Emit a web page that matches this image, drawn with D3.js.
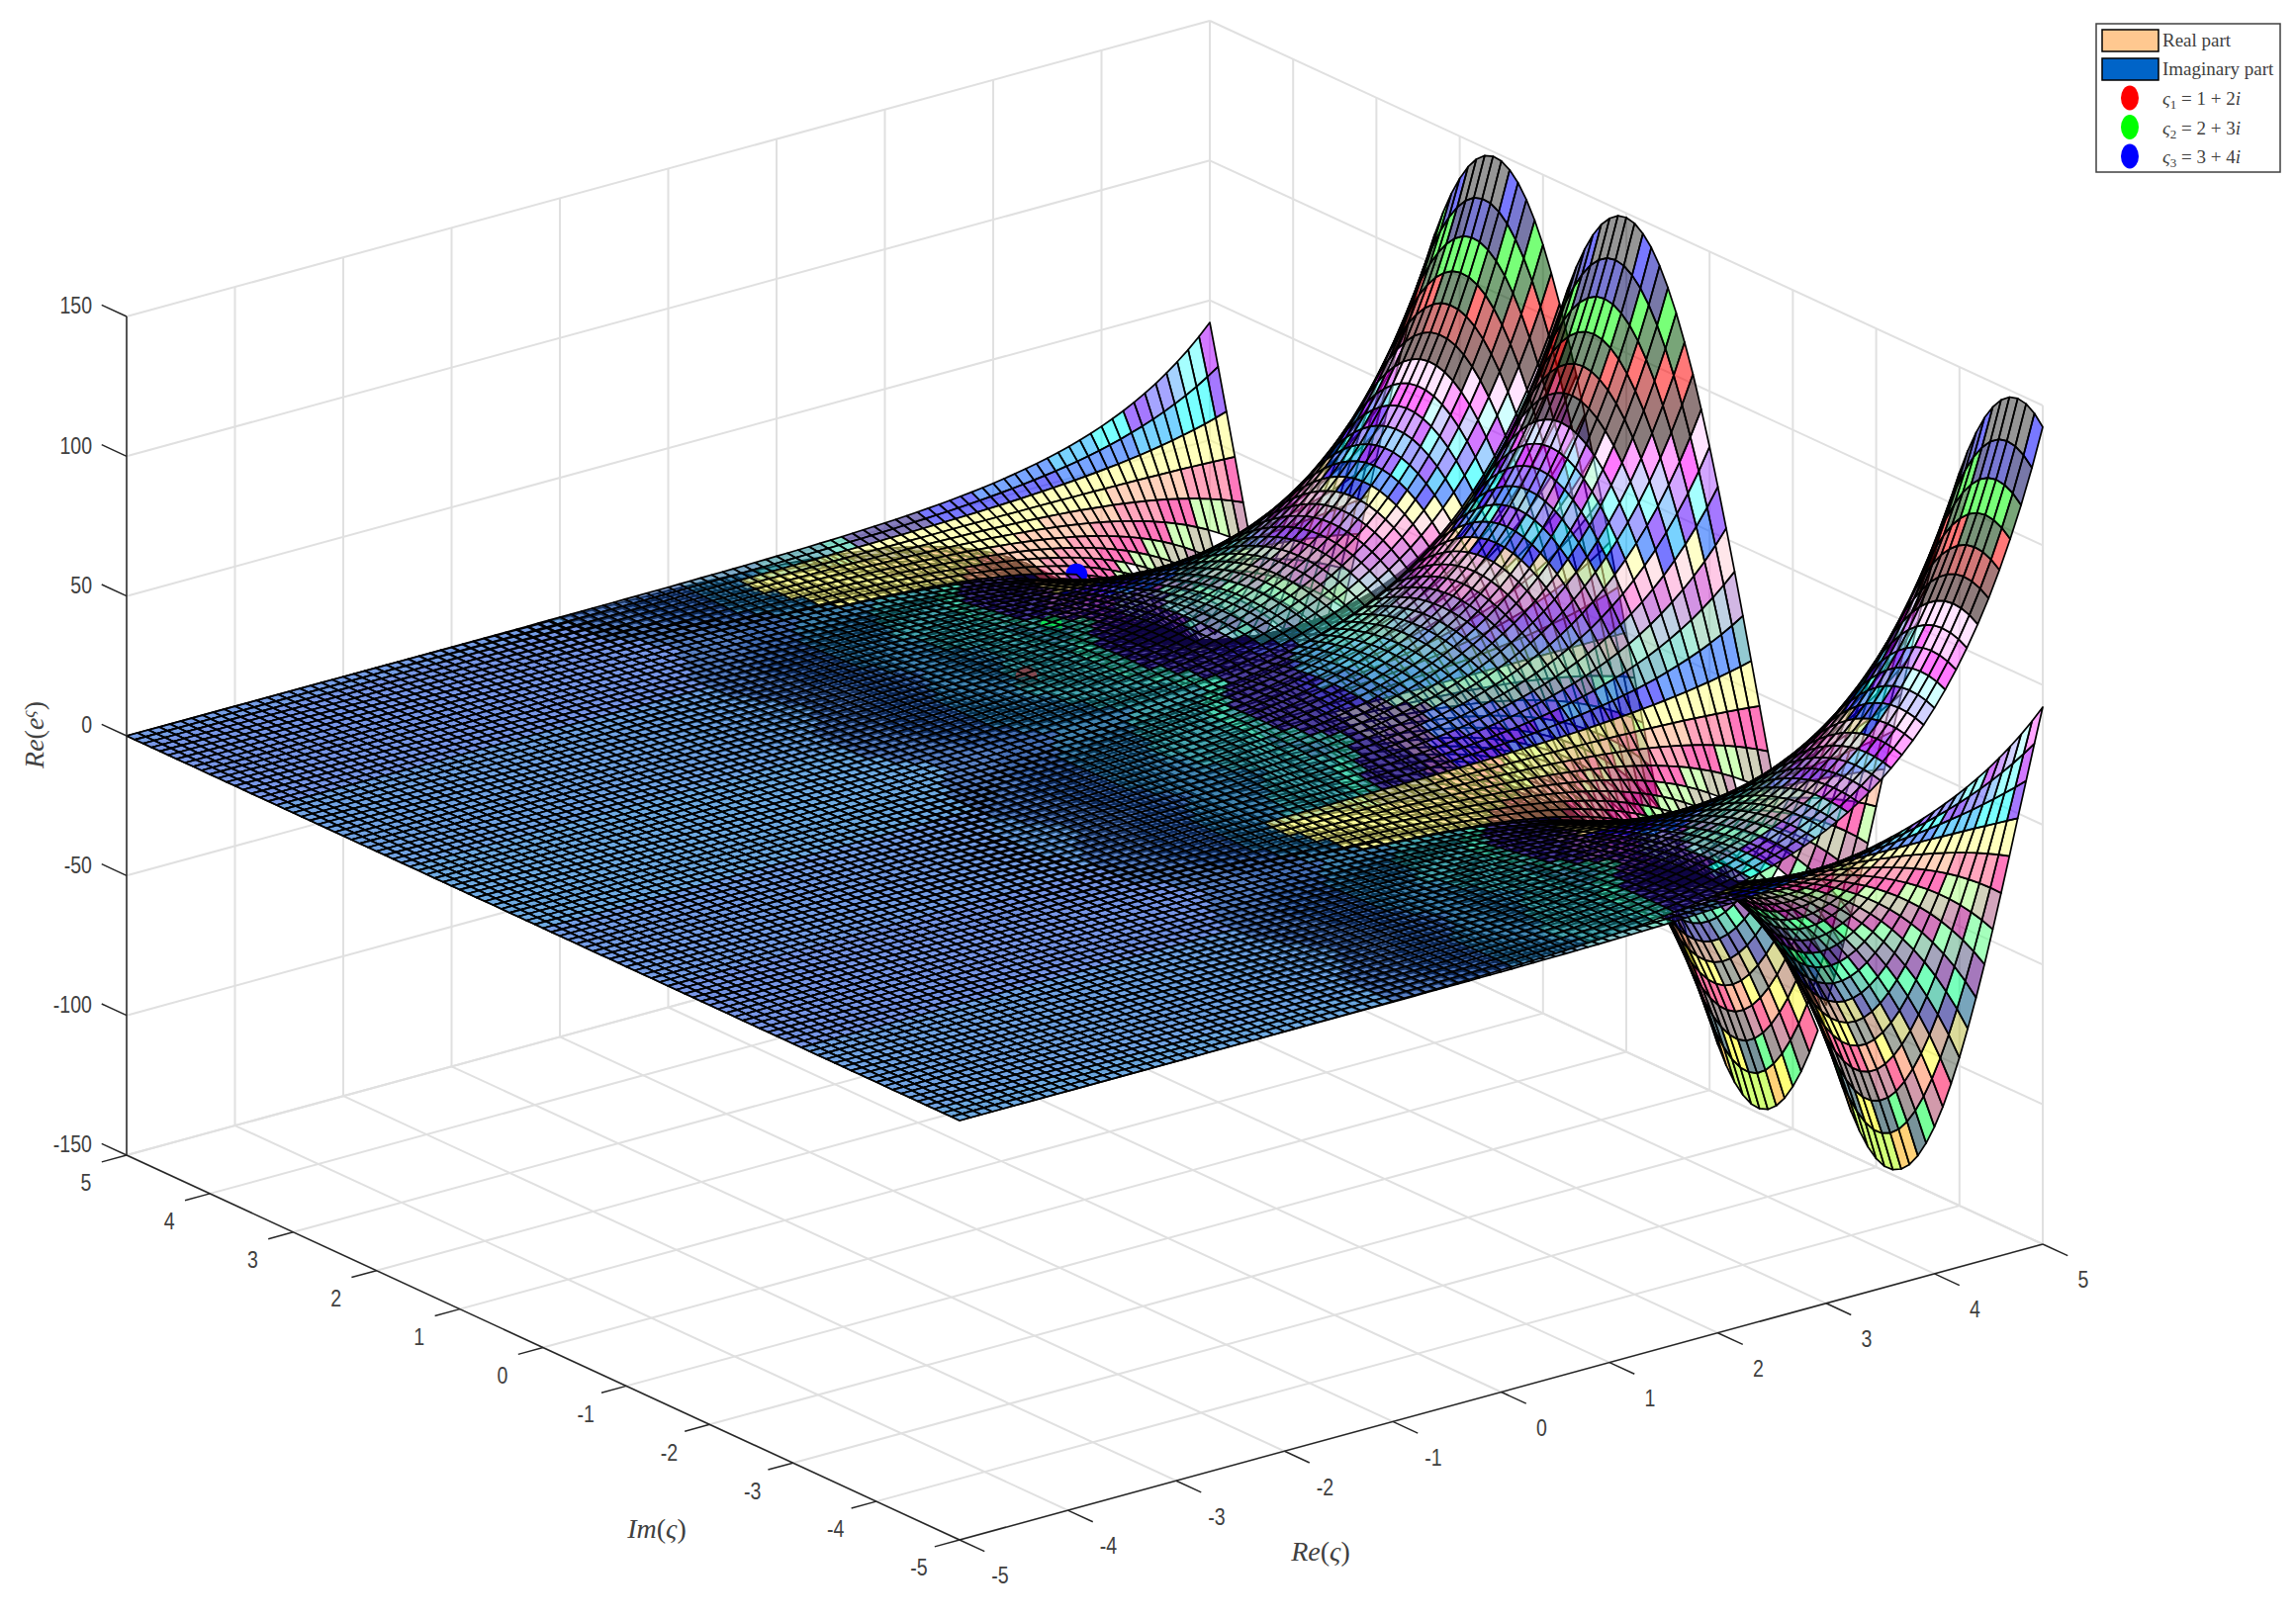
<!DOCTYPE html>
<html>
<head>
<meta charset="utf-8">
<script src="https://cdn.jsdelivr.net/npm/d3@7"></script>
<style>
    body { margin: 0; background: #fff; }
    text { fill: #404040; }
</style>
</head>
<body>
<div id="chart"></div>
<script>
// tick labels
let reTicks = [-5, -4, -3, -2, -1, 0, 1, 2, 3, 4, 5];
let imTicks = [-5, -4, -3, -2, -1, 0, 1, 2, 3, 4, 5];
let zTicks = [-150, -100, -50, 0, 50, 100, 150];

// mesh lines, Re and Im run the same way
let meshSteps = [-5, -4.9, -4.8, -4.7, -4.6, -4.5, -4.4, -4.3, -4.2, -4.1, -4, -3.9, -3.8, -3.7, -3.6, -3.5, -3.4, -3.3, -3.2, -3.1, -3, -2.9, -2.8, -2.7, -2.6, -2.5, -2.4, -2.3, -2.2, -2.1, -2, -1.9, -1.8, -1.7, -1.6, -1.5, -1.4, -1.3, -1.2, -1.1, -1, -0.9, -0.8, -0.7, -0.6, -0.5, -0.4, -0.3, -0.2, -0.1, 0, 0.1, 0.2, 0.3, 0.4, 0.5, 0.6, 0.7, 0.8, 0.9, 1, 1.1, 1.2, 1.3, 1.4, 1.5, 1.6, 1.7, 1.8, 1.9, 2, 2.1, 2.2, 2.3, 2.4, 2.5, 2.6, 2.7, 2.8, 2.9, 3, 3.1, 3.2, 3.3, 3.4, 3.5, 3.6, 3.7, 3.8, 3.9, 4, 4.1, 4.2, 4.3, 4.4, 4.5, 4.6, 4.7, 4.8, 4.9, 5];

// height of the real surface along its Re=5 edge, one value per mesh line of Im
let realEdge = [42.1, 27.7, 13.0, -1.8, -16.7, -31.3, -45.6, -59.5, -72.8, -85.3, -97.0, -107.7, -117.4, -125.9, -133.1, -139.0, -143.5, -146.5, -148.1, -148.3, -146.9, -144.1, -139.8, -134.2, -127.2, -118.9, -109.4, -98.9, -87.3, -74.9, -61.7, -48.0, -33.7, -19.1, -4.3, 10.5, 25.2, 39.7, 53.8, 67.3, 80.2, 92.2, 103.4, 113.5, 122.5, 130.2, 136.7, 141.8, 145.4, 147.7, 148.4, 147.7, 145.4, 141.8, 136.7, 130.2, 122.5, 113.5, 103.4, 92.2, 80.2, 67.3, 53.8, 39.7, 25.2, 10.5, -4.3, -19.1, -33.7, -48.0, -61.7, -74.9, -87.3, -98.9, -109.4, -118.9, -127.2, -134.2, -139.8, -144.1, -146.9, -148.3, -148.1, -146.5, -143.5, -139.0, -133.1, -125.9, -117.4, -107.7, -97.0, -85.3, -72.8, -59.5, -45.6, -31.3, -16.7, -1.8, 13.0, 27.7, 42.1];

// same for the imaginary surface
let imagEdge = [142.3, 145.8, 147.8, 148.4, 147.5, 145.1, 141.2, 136.0, 129.3, 121.4, 112.3, 102.1, 90.8, 78.6, 65.7, 52.1, 37.9, 23.4, 8.7, -6.2, -20.9, -35.5, -49.7, -63.4, -76.5, -88.8, -100.2, -110.7, -120.0, -128.1, -134.9, -140.4, -144.5, -147.2, -148.3, -148.0, -146.2, -143.0, -138.3, -132.3, -124.9, -116.2, -106.5, -95.6, -83.8, -71.1, -57.8, -43.9, -29.5, -14.8, 0, 14.8, 29.5, 43.9, 57.8, 71.1, 83.8, 95.6, 106.5, 116.2, 124.9, 132.3, 138.3, 143.0, 146.2, 148.0, 148.3, 147.2, 144.5, 140.4, 134.9, 128.1, 120.0, 110.7, 100.2, 88.8, 76.5, 63.4, 49.7, 35.5, 20.9, 6.2, -8.7, -23.4, -37.9, -52.1, -65.7, -78.6, -90.8, -102.1, -112.3, -121.4, -129.3, -136.0, -141.2, -145.1, -147.5, -148.4, -147.8, -145.8, -142.3];

// how much of the edge height is left at each mesh line of Re
let riseAlongRe = [0.00005, 0.00005, 0.00006, 0.00006, 0.00007, 0.00007, 0.00008, 0.00009, 0.0001, 0.00011, 0.00012, 0.00014, 0.00015, 0.00017, 0.00018, 0.0002, 0.00022, 0.00025, 0.00027, 0.0003, 0.00034, 0.00037, 0.00041, 0.00045, 0.0005, 0.00055, 0.00061, 0.00068, 0.00075, 0.0008, 0.0009, 0.001, 0.0011, 0.0012, 0.0014, 0.0015, 0.0017, 0.0018, 0.002, 0.0022, 0.0025, 0.0027, 0.003, 0.0033, 0.0037, 0.0041, 0.0045, 0.005, 0.0055, 0.0061, 0.0067, 0.0074, 0.0082, 0.0091, 0.0101, 0.0111, 0.0123, 0.0136, 0.015, 0.0166, 0.0183, 0.0202, 0.0224, 0.0247, 0.0273, 0.0302, 0.0334, 0.0369, 0.0408, 0.045, 0.0498, 0.055, 0.0608, 0.0672, 0.0743, 0.0821, 0.0907, 0.1003, 0.1108, 0.1225, 0.1353, 0.1496, 0.1653, 0.1827, 0.2019, 0.2231, 0.2466, 0.2725, 0.3012, 0.3329, 0.3679, 0.4066, 0.4493, 0.4966, 0.5488, 0.6065, 0.6703, 0.7408, 0.8187, 0.9048, 1];

// the marked points
let markerRe = [1, 2, 3];
let markerIm = [2, 3, 4];
let markerZ = [-1.1, -7.3, -13.1];
let markerColors = ["#ff0000", "#00ff00", "#0000ff"];

// legend
let legendSurfaces = ["Real part", "Imaginary part"];
let legendSurfaceColors = ["#ffc890", "#0064c8"];
let legendPoints = [["1", "1 + 2"], ["2", "2 + 3"], ["3", "3 + 4"]];

// facet colours, lowest height first
let bandColors = [
    "#aaaa00", "#aaaa00", "#aaaa00", "#aaff00", "#ffaa00", "#ffff00", "#003340", "#00ff40",
    "#554040", "#aa4060", "#ff0050", "#ff8050", "#ffff30", "#556050", "#aa7050", "#bbbb40",
    "#000080", "#005580", "#00aa80", "#00ff80", "#550080", "#555580", "#55aa80", "#55ff80",
    "#aa0080", "#aa5580", "#aaaa80", "#aaff80", "#ff0080", "#ff5580", "#ffaa80", "#ffff80",
    "#0000ff", "#0055ff", "#00aaff", "#00ffff", "#5500ff", "#5555ff", "#55aaff", "#55ffff",
    "#aa00ff", "#aa55ff", "#aaaaff", "#aaffff", "#ff00ff", "#ff55ff", "#ffaaff", "#ffccff",
    "#200505", "#2d0505", "#550000", "#aa0000", "#ff0000", "#003300", "#005500", "#00ff00",
    "#00ff00", "#00005a", "#0000aa", "#0000ff", "#393939", "#444444", "#555555", "#707070"
];
// colours of the ridge feet, heights 9 to 40
let ridgeFootColors = ["#3399aa", "#44ccbb", "#66ddbb", "#88ccaa", "#88aacc", "#aa77cc", "#aa33cc", "#cc33cc", "#ff55cc", "#ff99d0", "#ffd0d8", "#ffff99"];
// colours of the nearly flat part, by the larger height of the two surfaces
let flatNegative = "#5278df";
let flatPositive = "#4592d9";
let lowLimits = [0.6, 1, 2, 3.8, 4.64, 9];
let lowColors = ["#2a5ab0", "#14489f", "#10629a", "#148a98", "#20c8a0", "#1a0a80"];

let width = 2321, height = 1637;
let frontFloor = [970, 1557];
let svg = d3.select("#chart").append("svg").attr("width", width).attr("height", height)
    .style("display", "block");

// three axes, each moves the point on screen by its own scale
let reToX = d3.scaleLinear().domain([-5, 5]).range([0, 1095]);
let reToY = d3.scaleLinear().domain([-5, 5]).range([0, -299]);
let imToX = d3.scaleLinear().domain([-5, 5]).range([0, -842]);
let imToY = d3.scaleLinear().domain([-5, 5]).range([0, -389]);
let zToY = d3.scaleLinear().domain([-150, 150]).range([0, -848]);
let colorOfHeight = d3.scaleQuantize().domain([-148.4, 148.4]).range(bandColors);
let colorOfLow = d3.scaleThreshold().domain(lowLimits).range(lowColors.concat(["none"]));
let colorOfRidgeFoot = d3.scaleQuantize().domain([9, 40]).range(ridgeFootColors);
// above the feet the ridges run through the colours faster
let ridgeHeight = d3.scaleLinear().domain([40, 70]).range([0, 66]);
// the corner wedges also pass their blues quicker
let wedgeHeight = d3.scaleLinear().domain([0, 45]).range([0, 72]);

function project(re, im, z) {
    return [frontFloor[0] + reToX(re) + imToX(im), frontFloor[1] + reToY(re) + imToY(im) + zToY(z)];
}
// larger is closer to the viewer
function depth(re, im, z) {
    return -53.2 * re - 69.1 * im + 0.725 * z;
}
function facetColor(z, zRe, zIm, im) {
    let m = Math.max(Math.abs(zRe), Math.abs(zIm));
    if (m < 0.35) return z < 0 ? flatNegative : flatPositive;
    if (zRe < 0 && zIm < 0 && zRe > zIm && m >= 1.6) return colorOfHeight(z);
    let low = colorOfLow(m);
    if (low !== "none") return low;
    if (Math.abs(im) < 4.7) {
        if (z > 9 && z < 40) return colorOfRidgeFoot(z);
        if (z >= 40 && z < 70) return colorOfHeight(ridgeHeight(z));
    } else if (z > 0 && z < 45) {
        return colorOfHeight(wedgeHeight(z));
    }
    return colorOfHeight(z);
}

function line3d(a, b, cls) {
    let p = project(a[0], a[1], a[2]);
    let q = project(b[0], b[1], b[2]);
    return svg.append("line").attr("class", cls)
        .attr("x1", p[0]).attr("y1", p[1]).attr("x2", q[0]).attr("y2", q[1]);
}

// back walls and floor
reTicks.forEach(t => {
    line3d([t, 5, -150], [t, 5, 150], "grid");
    line3d([t, -5, -150], [t, 5, -150], "grid");
});
imTicks.forEach(t => {
    line3d([5, t, -150], [5, t, 150], "grid");
    line3d([-5, t, -150], [5, t, -150], "grid");
});
zTicks.forEach(t => {
    line3d([-5, 5, t], [5, 5, t], "grid");
    line3d([5, -5, t], [5, 5, t], "grid");
});
svg.selectAll("line.grid").attr("stroke", "#e0e0e0").attr("stroke-width", 2);

// surfaces and markers go through the same back to front list
let items = [];
[[realEdge, 0, 0], [imagEdge, 0.3, 1]].forEach(surface => {
    let edge = surface[0];
    for (let i = 0; i < meshSteps.length - 1; i++) {
        for (let j = 0; j < meshSteps.length - 1; j++) {
            let z00 = edge[j] * riseAlongRe[i];
            let z10 = edge[j] * riseAlongRe[i + 1];
            let z11 = edge[j + 1] * riseAlongRe[i + 1];
            let z01 = edge[j + 1] * riseAlongRe[i];
            let corners = [
                project(meshSteps[i], meshSteps[j], z00),
                project(meshSteps[i + 1], meshSteps[j], z10),
                project(meshSteps[i + 1], meshSteps[j + 1], z11),
                project(meshSteps[i], meshSteps[j + 1], z01)
            ];
            let meanZ = (z00 + z10 + z11 + z01) / 4;
            items.push({
                path: "M" + corners.map(c => c[0].toFixed(1) + "," + c[1].toFixed(1)).join("L") + "Z",
                corners: corners,
                fill: facetColor(z00, realEdge[j] * riseAlongRe[i], imagEdge[j] * riseAlongRe[i], meshSteps[j]),
                opacity: 0.53,
                stroke: "#000",
                sheet: surface[2],
                depth: depth(meshSteps[i] + 0.05, meshSteps[j] + 0.05, meanZ) + surface[1]
            });
        }
    }
});

// only the two nearest sheets show at any spot, what lies further back stays hidden
let bucketSize = 10;
let buckets = new Map();
function bucketOf(p) {
    return Math.floor(p[0] / bucketSize) + "_" + Math.floor(p[1] / bucketSize);
}
function centerOf(c) {
    return [d3.mean(c, p => p[0]), d3.mean(c, p => p[1])];
}
items.forEach(item => {
    let c = item.corners;
    let center = centerOf(c);
    let samples = [center].concat(c.map(p => [(p[0] + center[0]) / 2, (p[1] + center[1]) / 2]));
    samples.forEach(p => {
        let key = bucketOf(p);
        if (!buckets.has(key)) buckets.set(key, [[], []]);
        buckets.get(key)[item.sheet].push(item.depth);
    });
});
let bucketLimit = new Map();
buckets.forEach((lists, key) => {
    let starts = [];
    lists.forEach(list => {
        list.sort((a, b) => d3.descending(a, b));
        list.forEach((d, i) => {
            if (i === 0 || list[i - 1] - d > 22) starts.push(d);
        });
    });
    starts.sort((a, b) => d3.descending(a, b));
    bucketLimit.set(key, starts.length > 2 ? starts[2] : -Infinity);
});
let shown = items.filter(item => item.depth > bucketLimit.get(bucketOf(centerOf(item.corners))) + 0.01);

let markerShape = d3.symbol(d3.symbolCircle, Math.PI * 121)();
markerRe.forEach((re, i) => {
    shown.push({
        path: markerShape,
        at: project(re, markerIm[i], markerZ[i]),
        fill: markerColors[i],
        opacity: 1,
        stroke: "none",
        depth: depth(re, markerIm[i], markerZ[i]) + 1
    });
});
shown.sort((a, b) => d3.ascending(a.depth, b.depth));

svg.append("g").attr("class", "surface").selectAll("path").data(shown).join("path")
    .attr("d", d => d.path)
    .attr("transform", d => d.at ? "translate(" + d.at[0] + "," + d.at[1] + ")" : null)
    .attr("fill", d => d.fill)
    .attr("fill-opacity", d => d.opacity)
    .attr("stroke", d => d.stroke)
    .attr("stroke-width", 1.7)
    .attr("stroke-linejoin", "round");

// axis lines and ticks
line3d([-5, 5, -150], [-5, 5, 150], "axis");
line3d([-5, -5, -150], [-5, 5, -150], "axis");
line3d([-5, -5, -150], [5, -5, -150], "axis");
zTicks.forEach(t => line3d([-5, 5, t], [-5, 5.3, t], "axis"));
imTicks.forEach(t => line3d([-5, t, -150], [-5.23, t, -150], "axis"));
reTicks.forEach(t => line3d([t, -5, -150], [t, -5.3, -150], "axis"));
svg.selectAll("line.axis").attr("stroke", "#262626").attr("stroke-width", 1.5);

function tickLabel(pos, dx, dy, txt, anchor) {
    svg.append("text").attr("transform", "translate(" + (pos[0] + dx) + "," + (pos[1] + dy) + ") scale(0.85,1.05)")
        .attr("text-anchor", anchor).attr("dominant-baseline", "middle")
        .style("font", "23px 'Liberation Sans',sans-serif").text(txt);
}
zTicks.forEach(t => tickLabel(project(-5, 5, t), -35, -9, t, "end"));
imTicks.forEach(t => tickLabel(project(-5, t, -150), -41, 30, t, "middle"));
reTicks.forEach(t => tickLabel(project(t, -5, -150), 41, 38, t, "middle"));

// axis titles
let mathFont = "'Liberation Serif','DejaVu Serif',serif";
function axisTitle(x, y, rotate, parts) {
    let t = svg.append("text").attr("transform", "translate(" + x + "," + y + ") rotate(" + rotate + ")")
        .attr("text-anchor", "middle").style("font", "28px " + mathFont);
    parts.forEach(p => t.append("tspan").attr("font-style", p[1] ? "italic" : "normal")
        .attr("font-size", p[2] || null).attr("dy", p[3] || null).text(p[0]));
}
axisTitle(664, 1555, 0, [["Im", true], ["(", false], ["ς", true], [")", false]]);
axisTitle(1335, 1578, 0, [["Re", true], ["(", false], ["ς", true], [")", false]]);
axisTitle(44, 743, -90, [["Re", true], ["(", false], ["e", true], ["ς", true, 18, -9], [")", false, null, 9]]);

// legend
let legend = svg.append("g").attr("class", "legend");
legend.append("rect").attr("x", 2119).attr("y", 24).attr("width", 186).attr("height", 150)
    .attr("fill", "#fff").attr("stroke", "#404040").attr("stroke-width", 1.5);
legendSurfaces.forEach((name, i) => {
    legend.append("rect").attr("x", 2125).attr("y", 30 + i * 29).attr("width", 57).attr("height", 22)
        .attr("fill", legendSurfaceColors[i]).attr("stroke", "#000").attr("stroke-width", 1.5);
    legend.append("text").attr("x", 2186).attr("y", 47 + i * 29).style("font", "19px " + mathFont).text(name);
});
legendPoints.forEach((p, i) => {
    legend.append("ellipse").attr("cx", 2153).attr("cy", 99 + i * 29.5).attr("rx", 9).attr("ry", 12.5)
        .attr("fill", markerColors[i]);
    let t = legend.append("text").attr("x", 2186).attr("y", 106 + i * 29.5).style("font", "19px " + mathFont);
    t.append("tspan").attr("font-style", "italic").text("ς");
    t.append("tspan").attr("font-size", 13).attr("dy", 4).text(p[0]);
    t.append("tspan").attr("dy", -4).text(" = " + p[1]);
    t.append("tspan").attr("font-style", "italic").text("i");
});
</script>
</body>
</html>
